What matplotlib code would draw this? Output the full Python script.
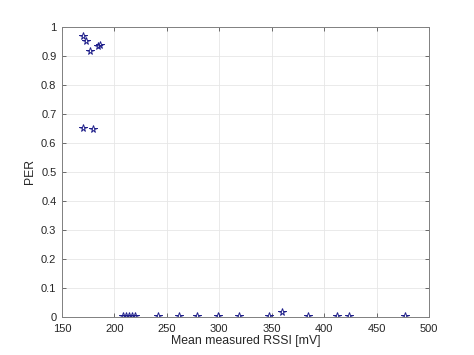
import matplotlib
matplotlib.use("Agg")
import matplotlib.pyplot as plt

rssi = [170, 173, 177, 184, 186, 170, 180,
        208, 211, 214, 217, 220, 242, 262, 279, 299, 319, 347, 360, 385, 412, 424, 477]
per = [0.969, 0.953, 0.917, 0.935, 0.938, 0.652, 0.647,
       0.003, 0.003, 0.003, 0.003, 0.003, 0.003, 0.003, 0.003, 0.003, 0.003, 0.003, 0.018, 0.003, 0.003, 0.003, 0.003]

xticks = [150, 200, 250, 300, 350, 400, 450, 500]
yticks = [0, 0.1, 0.2, 0.3, 0.4, 0.5, 0.6, 0.7, 0.8, 0.9, 1]
ytick_labels = ["0", "0.1", "0.2", "0.3", "0.4", "0.5", "0.6", "0.7", "0.8", "0.9", "1"]

plt.rcParams['font.family'] = ['Liberation Sans', 'DejaVu Sans']

fig = plt.figure(figsize=(4.74, 3.55), dpi=100)
ax = fig.add_axes([62/474, 38/355, 367/474, 290/355])

ax.plot(rssi, per, linestyle='none', marker='*', markersize=5.5,
        markerfacecolor='none', markeredgecolor='#1f1f8a', markeredgewidth=0.7)

ax.set_xlim(150, 500)
ax.set_ylim(0, 1)
ax.set_xticks(xticks)
ax.set_yticks(yticks)
ax.set_yticklabels(ytick_labels)
ax.grid(True, color='#e6e6e6', linewidth=0.6)
ax.set_axisbelow(True)
gray = '#262626'
for s in ax.spines.values():
    s.set_color('#808080')
    s.set_linewidth(0.7)
ax.tick_params(direction='in', length=3, width=0.6, color='#555555',
               labelsize=8, labelcolor=gray, top=True, right=True)
ax.tick_params(axis='x', pad=5)
ax.tick_params(axis='y', pad=4)
ax.set_xlabel('Mean measured RSSI [mV]', fontsize=8.8, color=gray, labelpad=1)
ax.set_ylabel('PER', fontsize=8.8, color=gray, labelpad=4)

fig.savefig('out.png', dpi=100)
